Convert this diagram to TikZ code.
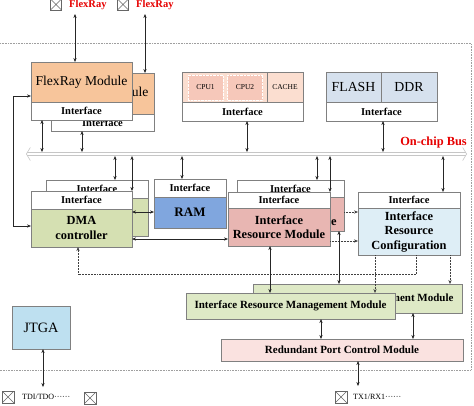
\documentclass[tikz,border=0pt]{standalone}
\usepackage{fontspec}
\setmainfont{Liberation Serif}
\usetikzlibrary{shapes.geometric, arrows.meta}
\usetikzlibrary{positioning}

\definecolor{frorange}{RGB}{247,197,155}
\definecolor{dmagreen}{RGB}{213,224,178}
\definecolor{ramblue}{RGB}{128,166,222}
\definecolor{irmrose}{RGB}{232,182,178}
\definecolor{ircblue}{RGB}{222,238,246}
\definecolor{mgmtgreen}{RGB}{222,233,198}
\definecolor{rpcpink}{RGB}{250,226,224}
\definecolor{jtgablue}{RGB}{190,224,240}
\definecolor{cpupink}{RGB}{251,222,208}
\definecolor{cpucore}{RGB}{246,200,186}
\definecolor{memblue}{RGB}{214,225,238}
\definecolor{boxline}{RGB}{128,128,128}
\definecolor{busred}{RGB}{230,0,0}

\tikzstyle{block} = [rectangle, anchor=north west, inner sep=0pt, outer sep=0pt, draw=boxline,
line width=0.6pt, align=center]
\tikzstyle{iface} = [block, fill=white, font=\bfseries\fontsize{10.5}{12}\selectfont]
\tikzstyle{twoline} = [font=\bfseries\fontsize{12.4}{14.5}\selectfont]
\tikzstyle{wide} = [font=\bfseries\fontsize{11}{13}\selectfont]
\tikzstyle{core} = [rectangle, fill=cpucore, draw=white, densely dotted, minimum width=35pt,
minimum height=25pt, inner sep=0pt, font=\fontsize{7.5}{9}\selectfont]
\tikzstyle{pin} = [rectangle, draw=black!60, line width=0.6pt, minimum size=11pt, inner sep=0pt,
path picture={\draw[black!60, line width=0.5pt] (path picture bounding box.north west) --
(path picture bounding box.south east) (path picture bounding box.north east) --
(path picture bounding box.south west);}]
\tikzstyle{pinlabel} = [anchor=west, inner sep=0pt, font=\fontsize{8}{9}\selectfont]
\tikzstyle{redlabel} = [anchor=west, inner sep=0pt, text=busred, font=\bfseries\fontsize{10.5}{12}\selectfont]
\tikzstyle{arrow} = [black!85, line width=0.5pt, <->, >={Stealth[length=4pt,width=3.2pt]}]
\tikzstyle{dotarrow} = [black!75, line width=0.5pt, densely dotted, ->, >={Stealth[length=4pt,width=3.2pt]}]
\tikzstyle{bus} = [draw=gray!45, line width=0.6pt, double=white, double distance=2.2pt,
{Straight Barb[length=4pt,width=13pt]}-{Straight Barb[length=4pt,width=13pt]}]
\tikzstyle{boundary} = [draw=gray!75, densely dotted, line width=0.6pt]

\begin{document}
\begin{tikzpicture}[x=1pt, y=-1pt]
    \useasboundingbox (0,0) rectangle (474,405);

    % chip boundary
    \draw[boundary] (0,43) -- (471,43) -- (471,370) -- (0,370);

    % FlexRay pins
    \node (frPin1) [pin] at (56,4.5) {};
    \node (frTxt1) [redlabel] at (69,5) {FlexRay};
    \node (frPin2) [pin] at (123,4.5) {};
    \node (frTxt2) [redlabel] at (136,5) {FlexRay};
    \coordinate (frIO1) at (75,14);
    \coordinate (frIO2) at (145,14);

    % FlexRay modules
    \node (frB) [block, fill=frorange, minimum width=103pt, minimum height=41pt,
        font=\fontsize{13.6}{15}\selectfont] at (51,73) {FlexRay Module};
    \node (frBI) [iface, minimum width=103pt, minimum height=17pt, below=0pt of frB] {Interface};
    \node (fr) [block, fill=frorange, minimum width=101pt, minimum height=40pt,
        font=\fontsize{13.6}{15}\selectfont] at (31,62) {FlexRay Module};
    \node (frI) [iface, minimum width=101pt, minimum height=18pt, below=0pt of fr] {Interface};

    % CPU
    \node (cpu) [block, fill=cpupink, minimum width=121pt, minimum height=30pt] at (182,72) {};
    \node (cpuI) [iface, minimum width=121pt, minimum height=19pt, below=0pt of cpu] {Interface};
    \node (cpu1) [core] at (205.5,87.5) {CPU1};
    \node (cpu2) [core] at (245,87.5) {CPU2};
    \node (cache) [block, minimum width=36pt, minimum height=30pt,
        font=\fontsize{7.5}{9}\selectfont] at (267,72) {CACHE};

    % memory
    \node (flash) [block, fill=memblue, minimum width=55pt, minimum height=30pt,
        font=\fontsize{13.8}{15}\selectfont] at (326,72) {FLASH};
    \node (ddr) [block, fill=memblue, minimum width=56pt, minimum height=30pt,
        font=\fontsize{13.8}{15}\selectfont, right=0pt of flash] {DDR};
    \node (memI) [iface, minimum width=111pt, minimum height=19pt] at (326,102) {Interface};

    % on-chip bus
    \coordinate (busL) at (26,154);
    \coordinate (busR) at (467,154);
    \coordinate (busTop) at (0,152);
    \coordinate (busBot) at (0,156);
    \draw[bus] (busL) -- (busR);
    \node (busTxt) [anchor=east, inner sep=0pt, text=busred,
        font=\bfseries\fontsize{12.4}{14}\selectfont] at (467,143) {On-chip Bus};

    % DMA
    \node (dmaBI) [iface, minimum width=102pt, minimum height=18pt] at (46,180) {Interface};
    \node (dmaB) [block, fill=dmagreen, minimum width=102pt, minimum height=38pt,
        below=0pt of dmaBI] {};
    \node (dmaI) [iface, minimum width=101pt, minimum height=18pt] at (31,191) {Interface};
    \node (dma) [block, twoline, fill=dmagreen, minimum width=101pt, minimum height=38pt,
        below=0pt of dmaI] {DMA\\controller};

    % RAM
    \node (ramI) [iface, minimum width=72pt, minimum height=18pt] at (154,179) {Interface};
    \node (ram) [block, fill=ramblue, minimum width=72pt, minimum height=31pt,
        font=\bfseries\fontsize{13}{15}\selectfont, below=0pt of ramI] {RAM};

    % interface resource modules
    \node (irmBI) [iface, minimum width=107pt, minimum height=17pt] at (237,180) {Interface};
    \node (irmB) [block, twoline, fill=irmrose, minimum width=107pt, minimum height=34pt,
        below=0pt of irmBI] {Interface\\Resource Module};
    \node (irmI) [iface, minimum width=102pt, minimum height=16pt] at (228,192) {Interface};
    \node (irm) [block, twoline, fill=irmrose, minimum width=102pt, minimum height=38pt,
        below=0pt of irmI] {Interface\\Resource Module};

    % configuration
    \node (ircI) [iface, minimum width=102pt, minimum height=16pt] at (358,192) {Interface};
    \node (irc) [block, twoline, fill=ircblue, minimum width=102pt, minimum height=47pt,
        below=0pt of ircI] {Interface\\Resource\\Configuration};

    % management and port control
    \node (mgmtB) [block, wide, fill=mgmtgreen, minimum width=209pt, minimum height=29pt]
        at (253,284) {Interface Resource Management Module};
    \node (mgmt) [block, wide, fill=mgmtgreen, minimum width=209pt, minimum height=26pt]
        at (186,293) {Interface Resource Management Module};
    \node (rpc) [block, wide, fill=rpcpink, minimum width=242pt, minimum height=22pt]
        at (221,339) {Redundant Port Control Module};
    \node (jtga) [block, fill=jtgablue, minimum width=58pt, minimum height=43pt,
        font=\fontsize{14.3}{16}\selectfont] at (12,306) {JTGA};

    % bottom pins
    \node (tdiPin) [pin, minimum size=12pt] at (8,397) {};
    \node (tdiTxt) [pinlabel] at (22,397) {TDI/TDO······};
    \node (tdoPin) [pin, minimum size=12pt] at (90,398) {};
    \node (txPin) [pin, minimum size=12pt] at (341,397) {};
    \node (txTxt) [pinlabel] at (353,397) {TX1/RX1······};
    \coordinate (jtgaIO) at (43,387);
    \coordinate (txIO) at (358,386);

    % pins to modules
    \draw[arrow] (frIO1) -- (frIO1 |- fr.north);
    \draw[arrow] (frIO2) -- (frIO2 |- frB.north);

    % modules to bus
    \draw[arrow] (42,0 |- frI.south) -- (42,0 |- busTop);
    \draw[arrow] (82,0 |- frBI.south) -- (82,0 |- busTop);
    \draw[arrow] (247,0 |- cpuI.south) -- (247,0 |- busTop);
    \draw[arrow] (383,0 |- memI.south) -- (383,0 |- busTop);
    \draw[arrow] (115,0 |- busBot) -- (115,0 |- dmaBI.north);
    \draw[arrow] (132,0 |- busBot) -- (132,0 |- dmaI.north);
    \draw[arrow] (182,0 |- busBot) -- (182,0 |- ramI.north);
    \draw[arrow] (317,0 |- busBot) -- (317,0 |- irmBI.north);
    \draw[arrow] (330,0 |- busBot) -- (330,0 |- irmI.north);
    \draw[arrow] (443,0 |- busBot) -- (443,0 |- ircI.north);

    % feedback from DMA to FlexRay
    \draw[arrow] (fr.west |- 0,96) -- (13,96) -- (13,226) -- (dma.west |- 0,226);

    % module links
    \draw[arrow] (dma.east |- 0,212) -- (ram.west |- 0,212);
    \draw[arrow] (dma.east |- 0,239) -- (irm.west |- 0,239);
    \draw[dotarrow] (irmB.east |- 0,212) -- (irc.west |- 0,212);
    \draw[dotarrow] (irm.east |- 0,241) -- (irc.west |- 0,241);
    \draw[dotarrow] (416,0 |- irc.south) -- (416,274) -- (78,274) -- (78,0 |- dma.south);
    \draw[arrow] (270,0 |- irm.south) -- (270,0 |- mgmt.north);
    \draw[arrow] (339,0 |- irmB.south) -- (339,0 |- mgmtB.north);
    \draw[dotarrow] (375,0 |- irc.south) -- (375,0 |- mgmt.north);
    \draw[dotarrow] (450,0 |- irc.south) -- (450,0 |- mgmtB.north);
    \draw[arrow] (321,0 |- mgmt.south) -- (321,0 |- rpc.north);
    \draw[arrow] (413,0 |- mgmtB.south) -- (413,0 |- rpc.north);

    % to outside pins
    \draw[arrow] (rpc.south -| txIO) -- (txIO);
    \draw[arrow] (jtga.south -| jtgaIO) -- (jtgaIO);

\end{tikzpicture}
\end{document}
